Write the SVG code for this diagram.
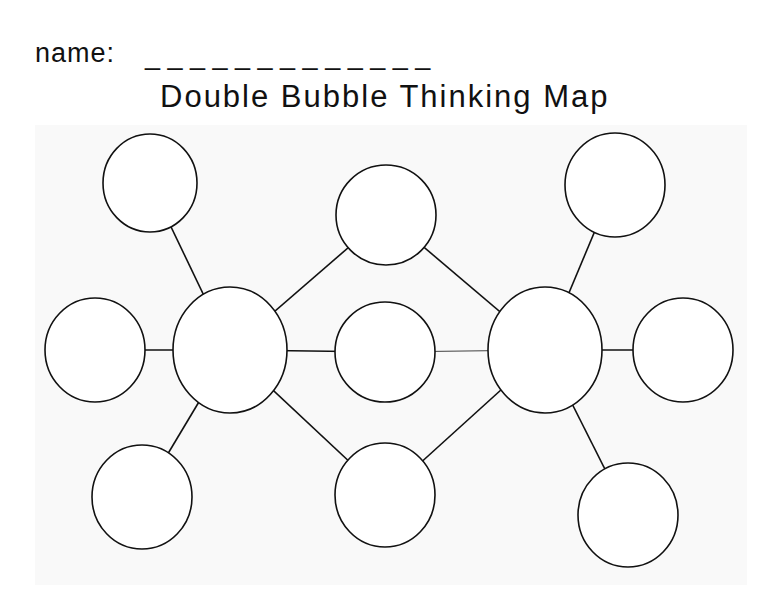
<svg xmlns="http://www.w3.org/2000/svg" width="768" height="594" viewBox="0 0 768 594">
<style>
.b{fill:#fff;stroke:#111;stroke-width:1.6}
.c line{stroke:#111;stroke-width:1.6}
text{font-family:"Liberation Sans",sans-serif;fill:#111}
</style>
<rect width="768" height="594" fill="#fff"/>
<rect x="35" y="125" width="712" height="460" fill="#f9f9f9"/>
<text x="35" y="62" font-size="27" letter-spacing="1">name:</text>
<text x="145" y="64" font-size="27" xml:space="preserve">_ _ _ _ _ _ _ _ _ _ _ _ _</text>
<text x="160" y="107" font-size="31" letter-spacing="2">Double Bubble Thinking Map</text>
<g class="c">
<line x1="150" y1="183" x2="230" y2="350"/>
<line x1="95" y1="350" x2="230" y2="350"/>
<line x1="142" y1="497" x2="230" y2="350"/>
<line x1="230" y1="350" x2="386" y2="215"/>
<line x1="230" y1="350" x2="385" y2="352"/>
<line x1="230" y1="350" x2="385" y2="495"/>
<line x1="545" y1="350" x2="386" y2="215"/>
<line x1="545" y1="350" x2="385" y2="352" style="stroke-width:0.8"/>
<line x1="545" y1="350" x2="385" y2="495"/>
<line x1="545" y1="350" x2="615" y2="183"/>
<line x1="545" y1="350" x2="683" y2="350"/>
<line x1="545" y1="350" x2="628" y2="515"/>
</g>
<g id="tl"><ellipse class="b" cx="150" cy="183" rx="47" ry="49"/></g>
<g id="tm"><ellipse class="b" cx="386" cy="215" rx="50" ry="50"/></g>
<g id="tr"><ellipse class="b" cx="615" cy="185" rx="50" ry="52"/></g>
<g id="l"><ellipse class="b" cx="95" cy="350" rx="50" ry="52"/></g>
<g id="lb"><ellipse class="b" cx="230" cy="350" rx="57" ry="63"/></g>
<g id="m"><ellipse class="b" cx="385" cy="352" rx="50" ry="50"/></g>
<g id="rb"><ellipse class="b" cx="545" cy="350" rx="57" ry="63"/></g>
<g id="r"><ellipse class="b" cx="683" cy="350" rx="50" ry="52"/></g>
<g id="bl"><ellipse class="b" cx="142" cy="497" rx="50" ry="52"/></g>
<g id="bm"><ellipse class="b" cx="385" cy="495" rx="50" ry="52"/></g>
<g id="br"><ellipse class="b" cx="628" cy="515" rx="50" ry="52"/></g>
</svg>
